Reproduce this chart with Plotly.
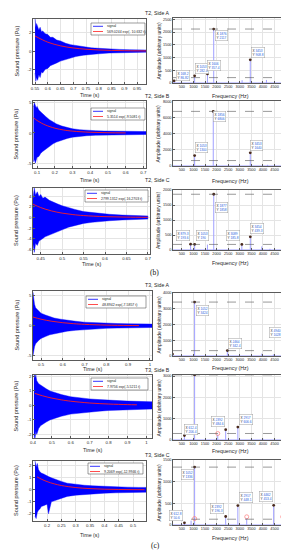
import plotly.graph_objects as go

W, H = 289, 550

# ------------------------------------------------------------------ data
panel_titles = ["T2, Side A", "T2, Side B", "T2, Side C", "T3, Side A", "T3, Side B", "T3, Side C"]
fit_labels = ["569.0244 exp(- 10.632 t)", "5.3514 exp(-9.5081 t)", "2799.1312 exp(-16.2703 t)",
              "48.8942 exp(-7.5857 t)", "7.9756 exp(-5.5211 t)", "9.2069 exp(-12.9946 t)"]

# time-domain signal envelopes (upper / lower)
t2a_t = [0.550, 0.553, 0.556, 0.560, 0.565, 0.570, 0.575, 0.580, 0.590, 0.600, 0.610, 0.620, 0.635,
         0.650, 0.670, 0.690, 0.710, 0.740, 0.770, 0.800, 0.840, 0.880, 0.920, 0.960, 0.985]
t2a_up = [3.5, 2.6, 3.0, 2.7, 2.3, 2.6, 2.1, 2.2, 1.9, 1.8, 1.5, 1.5, 1.2, 1.1, 0.85, 0.7, 0.6, 0.45,
          0.35, 0.3, 0.22, 0.18, 0.15, 0.13, 0.12]
t2a_lo = [-2.4, -3.3, -2.9, -3.2, -2.6, -2.9, -2.3, -2.4, -2.0, -1.9, -1.6, -1.5, -1.3, -1.1, -0.9,
          -0.75, -0.6, -0.45, -0.35, -0.3, -0.22, -0.18, -0.15, -0.13, -0.12]
t2a_fit_t = [0.55, 0.6, 0.65, 0.7, 0.75, 0.8, 0.85, 0.9, 0.95, 0.985]
t2a_fit = [1.642, 0.966, 0.567, 0.334, 0.196, 0.115, 0.068, 0.040, 0.023, 0.016]

t2b_t = [0.080, 0.085, 0.090, 0.095, 0.100, 0.110, 0.120, 0.130, 0.150, 0.170, 0.190, 0.210, 0.240,
         0.270, 0.300, 0.340, 0.380, 0.430, 0.480, 0.540, 0.600, 0.660, 0.715]
t2b_up = [4.3, 5.0, 4.6, 4.2, 4.4, 3.8, 3.5, 3.2, 2.7, 2.2, 1.8, 1.5, 1.15, 0.9, 0.7, 0.55, 0.45,
          0.38, 0.33, 0.3, 0.28, 0.25, 0.24]
t2b_lo = [-4.8, -4.4, -5.0, -4.5, -4.0, -3.9, -3.4, -3.1, -2.6, -2.2, -1.8, -1.5, -1.15, -0.9, -0.7,
          -0.55, -0.45, -0.38, -0.33, -0.3, -0.28, -0.25, -0.24]
t2b_fit_t = [0.08, 0.1, 0.125, 0.15, 0.2, 0.25, 0.3, 0.4, 0.5, 0.6]
t2b_fit = [2.501, 2.068, 1.630, 1.285, 0.799, 0.497, 0.309, 0.119, 0.046, 0.018]

t2c_t = [0.432, 0.435, 0.438, 0.442, 0.446, 0.450, 0.455, 0.460, 0.470, 0.480, 0.490, 0.500, 0.515,
         0.530, 0.550, 0.570, 0.590, 0.610, 0.640, 0.670, 0.700]
t2c_up = [3.5, 5.5, 4.2, 4.8, 3.9, 4.3, 3.6, 3.8, 3.2, 2.8, 2.5, 2.2, 1.8, 1.5, 1.1, 0.9, 0.7, 0.6,
          0.45, 0.35, 0.3]
t2c_lo = [-5.0, -6.5, -4.8, -5.2, -4.4, -4.2, -3.9, -3.6, -3.3, -2.9, -2.6, -2.3, -1.8, -1.5, -1.1,
          -0.9, -0.7, -0.6, -0.45, -0.35, -0.3]
t2c_fit_t = [0.432, 0.45, 0.475, 0.5, 0.525, 0.55, 0.6, 0.65, 0.7]
t2c_fit = [2.481, 1.852, 1.232, 0.821, 0.546, 0.364, 0.161, 0.072, 0.032]

t3a_t = [0.463, 0.466, 0.470, 0.475, 0.480, 0.490, 0.500, 0.520, 0.540, 0.560, 0.590, 0.620, 0.660,
         0.700, 0.750, 0.800, 0.850, 0.900, 0.950, 1.000, 1.010]
t3a_up = [5.6, 4.2, 3.6, 3.0, 2.8, 2.4, 2.1, 1.8, 1.5, 1.3, 1.1, 0.9, 0.75, 0.6, 0.5, 0.42, 0.38,
          0.34, 0.3, 0.28, 0.28]
t3a_lo = [-5.0, -4.3, -3.5, -3.0, -2.7, -2.4, -2.1, -1.8, -1.5, -1.3, -1.1, -0.9, -0.75, -0.6, -0.5,
          -0.42, -0.38, -0.34, -0.3, -0.28, -0.28]
t3a_fit_t = [0.463, 0.5, 0.55, 0.6, 0.65, 0.7, 0.8, 0.9, 0.95]
t3a_fit = [1.458, 1.102, 0.754, 0.516, 0.353, 0.242, 0.113, 0.053, 0.036]

t3b_t = [0.405, 0.410, 0.415, 0.420, 0.430, 0.440, 0.450, 0.470, 0.490, 0.520, 0.550, 0.600, 0.650,
         0.700, 0.750, 0.800, 0.850, 0.900, 0.950, 1.000, 1.030]
t3b_up = [2.4, 1.9, 2.1, 1.7, 1.5, 1.4, 1.3, 1.15, 1.0, 0.85, 0.75, 0.6, 0.5, 0.45, 0.4, 0.35, 0.32,
          0.3, 0.28, 0.26, 0.25]
t3b_lo = [-2.0, -2.4, -1.8, -2.0, -1.6, -1.4, -1.3, -1.15, -1.0, -0.85, -0.75, -0.6, -0.5, -0.45,
          -0.4, -0.35, -0.32, -0.3, -0.28, -0.26, -0.25]
t3b_fit_t = [0.41, 0.45, 0.5, 0.55, 0.6, 0.7, 0.8, 0.9, 0.95]
t3b_fit = [0.830, 0.665, 0.504, 0.383, 0.291, 0.167, 0.096, 0.055, 0.042]

t3c_t = [0.158, 0.162, 0.166, 0.170, 0.175, 0.180, 0.190, 0.200, 0.205, 0.215, 0.230, 0.250, 0.270,
         0.300, 0.330, 0.360, 0.400, 0.440, 0.480, 0.520, 0.545]
t3c_up = [2.4, 1.9, 2.2, 1.7, 1.5, 1.4, 1.3, 1.15, 1.1, 1.0, 0.85, 0.7, 0.55, 0.45, 0.38, 0.33, 0.28,
          0.25, 0.22, 0.2, 0.2]
t3c_lo = [-2.2, -2.4, -1.9, -1.7, -1.6, -1.4, -1.3, -1.2, -2.0, -1.0, -0.85, -0.7, -0.55, -0.45,
          -0.38, -0.33, -0.28, -0.25, -0.22, -0.2, -0.2]
t3c_fit_t = [0.165, 0.18, 0.2, 0.225, 0.25, 0.3, 0.35, 0.4, 0.45, 0.5, 0.54]
t3c_fit = [1.079, 0.888, 0.684, 0.494, 0.357, 0.187, 0.098, 0.051, 0.027, 0.014, 0.008]

# time-axis ticks
t2a_xt = [0.55, 0.6, 0.65, 0.7, 0.75, 0.8, 0.85, 0.9, 0.95]
t2b_xt = [0.1, 0.2, 0.3, 0.4, 0.5, 0.6, 0.7]
t2c_xt = [0.45, 0.5, 0.55, 0.6, 0.65, 0.7]
t3a_xt = [0.5, 0.6, 0.7, 0.8, 0.9, 1.0]
t3b_xt = [0.4, 0.5, 0.6, 0.7, 0.8, 0.9, 1.0]
t3c_xt = [0.2, 0.25, 0.3, 0.35, 0.4, 0.45, 0.5]
t2a_yt = [-2, 0, 2]
t2b_yt = [-5, 0, 5]
t2c_yt = [-6, -4, -2, 0, 2, 4]
t3a_yt = [-5, 0, 5]
t3b_yt = [-2, -1, 0, 1, 2]
t3c_yt = [-2, -1, 0, 1, 2]

# spectra: all stems
t2a_f = [168.2, 1053, 1606, 1876, 3100, 3453, 4150]
t2a_a = [86.82, 282.4, 357.4, 2117, 110, 908.8, 120]
t2b_f = [1053, 1856, 3453, 4200]
t2b_a = [1300, 6806, 1640, 150]
t2c_f = [879.3, 1053, 1606, 1877, 3089, 3454, 3950, 4300]
t2c_a = [193.6, 190, 180, 1858, 185.8, 439.3, 120, 40]
t3a_f = [96.32, 1052, 2464, 3950, 4450, 4940]
t3a_a = [124.5, 3424, 342.4, 150, 100, 1028]
t3b_f = [612.4, 1052, 2050, 2392, 2917, 4000]
t3b_a = [206.4, 3056, 250, 484.6, 606.6, 60]
t3c_f = [612.8, 900, 1052, 2392, 2917, 3300, 4462, 4850]
t3c_a = [50.6, 100, 1336, 196.3, 448.1, 150, 453.4, 120]

# spectra: data-tip peaks
t2a_pf = [168.2, 1053, 1606, 1876, 3453]
t2a_pa = [86.82, 282.4, 357.4, 2117, 908.8]
t2b_pf = [1053, 1856, 3453]
t2b_pa = [1300, 6806, 1640]
t2c_pf = [879.3, 1053, 1877, 3089, 3454]
t2c_pa = [193.6, 190, 1858, 185.8, 439.3]
t3a_pf = [96.32, 1052, 2464, 4940]
t3a_pa = [124.5, 3424, 342.4, 1028]
t3b_pf = [612.4, 1052, 2392, 2917]
t3b_pa = [206.4, 3056, 484.6, 606.6]
t3c_pf = [612.8, 1052, 2392, 2917, 4462]
t3c_pa = [50.6, 1336, 196.3, 448.1, 453.4]

# spectra: open pink circles
t3b_cf = [2050]
t3b_ca = [305]
t3c_cf = [1052, 3300, 4850]
t3c_ca = [150, 190, 190]

# dashed reference levels (max and 10 %)
t2a_lvl = [2117, 211.7]
t2b_lvl = [6806, 680.6]
t2c_lvl = [1858, 185.8]
t3a_lvl = [3424, 342.4]
t3b_lvl = [3056, 305.6]
t3c_lvl = [1336, 133.6]

f_ticks = [500, 1000, 1500, 2000, 2500, 3000, 3500, 4000, 4500, 5000]
t2a_ayt = [0, 500, 1000, 1500, 2000, 2500]
t2b_ayt = [0, 2000, 4000, 6000, 8000]
t2c_ayt = [0, 500, 1000, 1500, 2000]
t3a_ayt = [0, 1000, 2000, 3000, 4000]
t3b_ayt = [0, 1000, 2000, 3000]
t3c_ayt = [0, 500, 1000, 1500]

# ------------------------------------------------------------------ layout / style
FONT = "Liberation Sans"
TXT = "#262626"
BLUE = "#0000ff"
RED = "#ff2020"

left_px = [(25, 138, 11, 76), (25, 138, 93, 160), (25, 142, 180, 246),
           (25, 144, 283, 352), (25, 144, 367, 430), (25, 138, 453, 513)]
right_px = [(165, 280, 10, 75), (165, 280, 93, 158), (165, 280, 182, 242),
            (165, 280, 285, 348), (165, 280, 367, 432), (165, 280, 452, 517)]
left_xr = [[0.542, 0.985], [0.077, 0.715], [0.432, 0.705], [0.463, 1.01], [0.4, 1.03], [0.151, 0.545]]
left_yr = [[-3.6, 3.5], [-5.8, 5.3], [-6.8, 5.5], [-5.7, 5.8], [-2.25, 2.1], [-2.6, 2.4]]
right_yr = [[0, 2550], [0, 8100], [0, 2000], [0, 4000], [0, 3050], [0, 1500]]
right_xr = [120, 5080]
legend_px = [(83, 15, 137, 27), (83, 100, 137, 112), (77, 182, 140, 194),
             (78, 288, 138, 300), (83, 370, 140, 382), (80, 455, 135, 466)]
title_py = [5, 88, 172, 277, 362, 447]
time_lbl_py = [87, 172, 256, 361, 442, 527]
freq_lbl_py = [88, 173, 255, 360, 443, 530]

# data-tip placement: (xanchor, yanchor, xshift, yshift)
tip_place = [
    [("left", "bottom", 2, 0), ("left", "bottom", 0, 2), ("left", "bottom", 0, 3),
     ("left", "top", 1, -1), ("left", "bottom", 1, 2)],
    [("left", "bottom", 0, 3), ("left", "top", 0, 0), ("left", "bottom", 0, 2)],
    [("right", "bottom", -1, 3), ("left", "bottom", 1, 3), ("left", "top", 1, -8),
     ("right", "bottom", -2, 3), ("left", "bottom", 0, 3)],
    [("left", "bottom", 1, 1), ("left", "top", 1, -3), ("left", "bottom", 1, 2),
     ("right", "bottom", -3, 2)],
    [("left", "bottom", 0, 1), ("left", "top", 1, -3), ("right", "bottom", -1, 3),
     ("left", "bottom", 1, 2)],
    [("right", "bottom", -1, 2), ("right", "top", -1, -2), ("right", "bottom", -2, 2),
     ("left", "bottom", 1, 3), ("right", "bottom", -1, 3)],
]

sig_t = [t2a_t, t2b_t, t2c_t, t3a_t, t3b_t, t3c_t]
sig_up = [t2a_up, t2b_up, t2c_up, t3a_up, t3b_up, t3c_up]
sig_lo = [t2a_lo, t2b_lo, t2c_lo, t3a_lo, t3b_lo, t3c_lo]
fit_t = [t2a_fit_t, t2b_fit_t, t2c_fit_t, t3a_fit_t, t3b_fit_t, t3c_fit_t]
fit_v = [t2a_fit, t2b_fit, t2c_fit, t3a_fit, t3b_fit, t3c_fit]
time_xt = [t2a_xt, t2b_xt, t2c_xt, t3a_xt, t3b_xt, t3c_xt]
time_yt = [t2a_yt, t2b_yt, t2c_yt, t3a_yt, t3b_yt, t3c_yt]
spec_f = [t2a_f, t2b_f, t2c_f, t3a_f, t3b_f, t3c_f]
spec_a = [t2a_a, t2b_a, t2c_a, t3a_a, t3b_a, t3c_a]
peak_f = [t2a_pf, t2b_pf, t2c_pf, t3a_pf, t3b_pf, t3c_pf]
peak_a = [t2a_pa, t2b_pa, t2c_pa, t3a_pa, t3b_pa, t3c_pa]
circ_f = [[], [], [], [], t3b_cf, t3c_cf]
circ_a = [[], [], [], [], t3b_ca, t3c_ca]
levels = [t2a_lvl, t2b_lvl, t2c_lvl, t3a_lvl, t3b_lvl, t3c_lvl]
amp_yt = [t2a_ayt, t2b_ayt, t2c_ayt, t3a_ayt, t3b_ayt, t3c_ayt]


def PX(p):
    return p / W


def PY(p):
    return 1 - p / H


def fmt_tick(v):
    return "%g" % v


axis_style = dict(showline=True, mirror=True, linecolor="#5a5a5a", linewidth=0.6,
                  ticks="inside", ticklen=2, tickwidth=0.5, tickcolor="#5a5a5a",
                  showgrid=True, gridcolor="#e4e4e4", gridwidth=0.5, zeroline=False,
                  tickangle=0, automargin=False,
                  tickfont=dict(size=4.3, color=TXT, family=FONT))
spec_tickfont = dict(size=3.8, color=TXT, family=FONT)

fig = go.Figure()
layout = dict(width=W, height=H, margin=dict(l=0, r=0, t=0, b=0), autosize=False,
              paper_bgcolor="white", plot_bgcolor="white", showlegend=False,
              font=dict(family=FONT, color=TXT))
annotations = []
shapes = []


def ax_name(kind, k):
    return kind + ("" if k == 1 else str(k))


for r in range(6):
    kL, kR = 2 * r + 1, 2 * r + 2
    xl, xr_, yt, yb = left_px[r]
    layout[ax_name("xaxis", kL)] = dict(axis_style, domain=[PX(xl), PX(xr_)], anchor=ax_name("y", kL),
                                        range=left_xr[r], tickvals=time_xt[r],
                                        ticktext=[fmt_tick(v) for v in time_xt[r]])
    layout[ax_name("yaxis", kL)] = dict(axis_style, domain=[PY(yb), PY(yt)], anchor=ax_name("x", kL),
                                        range=left_yr[r], tickvals=time_yt[r],
                                        ticktext=[fmt_tick(v) for v in time_yt[r]])
    xl2, xr2, yt2, yb2 = right_px[r]
    layout[ax_name("xaxis", kR)] = dict(axis_style, domain=[PX(xl2), PX(xr2)], anchor=ax_name("y", kR),
                                        range=right_xr, tickvals=f_ticks, tickfont=spec_tickfont,
                                        ticktext=[str(v) for v in f_ticks])
    layout[ax_name("yaxis", kR)] = dict(axis_style, domain=[PY(yb2), PY(yt2)], anchor=ax_name("x", kR),
                                        range=right_yr[r], tickvals=amp_yt[r], tickfont=spec_tickfont,
                                        ticktext=[str(v) for v in amp_yt[r]])

    xa, ya = ax_name("x", kL), ax_name("y", kL)
    tt = sig_t[r]
    fig.add_trace(go.Scatter(x=tt + tt[::-1], y=sig_up[r] + sig_lo[r][::-1], mode="lines",
                             fill="toself", fillcolor=BLUE, line=dict(color=BLUE, width=0.4),
                             xaxis=xa, yaxis=ya, hoverinfo="skip"))
    fig.add_trace(go.Scatter(x=fit_t[r], y=fit_v[r], mode="lines",
                             line=dict(color=RED, width=0.9, shape="spline"),
                             xaxis=xa, yaxis=ya, hoverinfo="skip"))

    xb, yb_ = ax_name("x", kR), ax_name("y", kR)
    sx, sy = [], []
    for f, a in zip(spec_f[r], spec_a[r]):
        sx += [f, f, None]
        sy += [0, a, None]
    fig.add_trace(go.Scatter(x=[right_xr[0], right_xr[1]], y=[8 * right_yr[r][1] / 1000] * 2,
                             mode="lines", line=dict(color="#a8a8ff", width=0.6),
                             xaxis=xb, yaxis=yb_, hoverinfo="skip"))
    fig.add_trace(go.Scatter(x=sx, y=sy, mode="lines", line=dict(color="#a0a0ff", width=1.0),
                             xaxis=xb, yaxis=yb_, hoverinfo="skip"))
    for lv in levels[r]:
        shapes.append(dict(type="line", xref=xb + " domain", yref=yb_, x0=0, x1=1, y0=lv, y1=lv,
                           line=dict(color="#555555", width=0.6, dash="dash")))
    if circ_f[r]:
        fig.add_trace(go.Scatter(x=circ_f[r], y=circ_a[r], mode="markers",
                                 marker=dict(symbol="circle-open", size=4, color="#ff7a7a",
                                             line=dict(width=0.7)),
                                 xaxis=xb, yaxis=yb_, hoverinfo="skip"))
    fig.add_trace(go.Scatter(x=peak_f[r], y=peak_a[r], mode="markers",
                             marker=dict(size=2.8, color="#4a2a1c"),
                             xaxis=xb, yaxis=yb_, hoverinfo="skip"))
    for (f, a), (xan, yan, dx, dy) in zip(zip(peak_f[r], peak_a[r]), tip_place[r]):
        txt = ("X <span style='color:#1f5fe0'>%s</span><br>Y <span style='color:#1f5fe0'>%s</span>"
               % ("%.4g" % f, "%.4g" % a))
        annotations.append(dict(x=f, y=a, xref=xb, yref=yb_, text=txt, showarrow=False,
                                xanchor=xan, yanchor=yan, xshift=dx, yshift=dy, align="left",
                                font=dict(size=3.2, color="#222222", family=FONT),
                                bgcolor="white", bordercolor="#a0a0a0", borderwidth=0.5,
                                borderpad=1))

    lx0, ly0, lx1, ly1 = legend_px[r]
    shapes.append(dict(type="rect", xref="paper", yref="paper", x0=PX(lx0), x1=PX(lx1),
                       y0=PY(ly1), y1=PY(ly0), line=dict(color="#3a3a3a", width=0.5),
                       fillcolor="white"))
    ya1 = ly0 + 3.3
    ya2 = ly0 + 8.5
    shapes.append(dict(type="line", xref="paper", yref="paper", x0=PX(lx0 + 2), x1=PX(lx0 + 12),
                       y0=PY(ya1), y1=PY(ya1), line=dict(color=BLUE, width=0.8)))
    shapes.append(dict(type="line", xref="paper", yref="paper", x0=PX(lx0 + 2), x1=PX(lx0 + 12),
                       y0=PY(ya2), y1=PY(ya2), line=dict(color=RED, width=0.8)))
    annotations.append(dict(x=PX(lx0 + 13.5), y=PY(ya1), xref="paper", yref="paper", text="signal",
                            showarrow=False, xanchor="left", yanchor="middle",
                            font=dict(size=3.5, color=TXT, family=FONT)))
    annotations.append(dict(x=PX(lx0 + 13.5), y=PY(ya2), xref="paper", yref="paper",
                            text=fit_labels[r], showarrow=False, xanchor="left", yanchor="middle",
                            font=dict(size=3.5, color=TXT, family=FONT)))

    annotations.append(dict(x=PX(149), y=PY(title_py[r]), xref="paper", yref="paper",
                            text=panel_titles[r], showarrow=False, xanchor="center",
                            yanchor="middle", font=dict(size=5.2, color=TXT, family=FONT)))
    annotations.append(dict(x=PX((xl + xr_) / 2), y=PY(time_lbl_py[r]), xref="paper", yref="paper",
                            text="Time (s)", showarrow=False, xanchor="center", yanchor="middle",
                            font=dict(size=5.3, color=TXT, family=FONT)))
    annotations.append(dict(x=PX((xl2 + xr2) / 2), y=PY(freq_lbl_py[r]), xref="paper", yref="paper",
                            text="Frequency (Hz)", showarrow=False, xanchor="center",
                            yanchor="middle", font=dict(size=5.3, color=TXT, family=FONT)))
    annotations.append(dict(x=PX(8), y=PY((yt + yb) / 2), xref="paper", yref="paper",
                            text="Sound pressure (Pa)", showarrow=False, textangle=-90,
                            xanchor="center", yanchor="middle",
                            font=dict(size=5.5, color=TXT, family=FONT)))
    annotations.append(dict(x=PX(150), y=PY((yt2 + yb2) / 2), xref="paper", yref="paper",
                            text="Amplitude (arbitrary units)", showarrow=False, textangle=-90,
                            xanchor="center", yanchor="middle",
                            font=dict(size=5.0, color=TXT, family=FONT)))

annotations.append(dict(x=PX(146), y=PY(264), xref="paper", yref="paper", text="(b)",
                        showarrow=False, xanchor="center", yanchor="middle",
                        font=dict(size=7.5, color="#111111", family="Liberation Serif")))
annotations.append(dict(x=PX(147), y=PY(537), xref="paper", yref="paper", text="(c)",
                        showarrow=False, xanchor="center", yanchor="middle",
                        font=dict(size=7.5, color="#111111", family="Liberation Serif")))

layout["annotations"] = annotations
layout["shapes"] = shapes
fig.update_layout(**layout)
fig.write_html("out.html")
